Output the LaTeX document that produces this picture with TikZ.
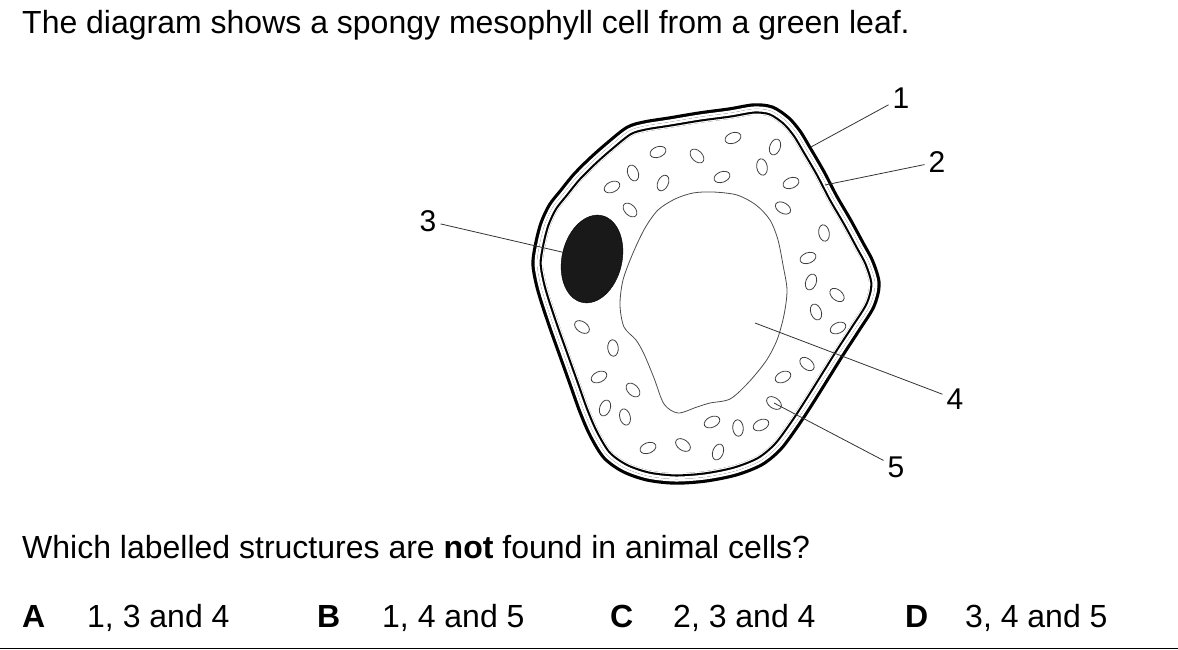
\documentclass[tikz,border=0pt]{standalone}
\usepackage{fontspec}
\setmainfont{Liberation Sans}
\usetikzlibrary{shapes.geometric}
\newcommand\cellwall{plot[smooth cycle] coordinates {
  (537,263) (540,243) (545,224) (553,207) (564,193) (577,177) (593,161) (610,146)
  (629,131) (645,126) (670,122) (700,117) (730,113) (754,109) (771,111) (786,121)
  (797,134) (806,149) (820,173) (833,198) (847,222) (860,246) (869,263) (875,284)
  (870,305) (855,329) (840,352) (825,376) (810,400) (795,423) (778,446) (760,461)
  (735,471) (705,477) (675,479) (648,476) (625,468) (607,455) (594,434) (584,411)
  (574,383) (564,355) (554,327) (545,300) (540,282)}}
\begin{document}
\begin{tikzpicture}[x=1pt,y=-1pt,
  txt/.style={anchor=base west,inner sep=0pt,font=\fontsize{32}{38}\selectfont},
  num/.style={inner sep=4pt,font=\fontsize{30}{36}\selectfont},
  chloro/.style={draw=black!75,line width=0.8pt,ellipse,inner sep=0pt,minimum width=16.5pt,minimum height=10.5pt},
  pointer/.style={draw=black!80,line width=0.8pt}]
\useasboundingbox (0,0) rectangle (1178,650);
% texts
\node[txt] (title) at (22,34) {The diagram shows a spongy mesophyll cell from a green leaf.};
\node[txt] (quest) at (22,558) {Which labelled structures are \textbf{not} found in animal cells?};
\node[txt] (optA) at (22,627.5) {\textbf{A}};
\node[txt] (ansA) at (87,627.5) {1, 3 and 4};
\node[txt] (optB) at (317,627.5) {\textbf{B}};
\node[txt] (ansB) at (382,627.5) {1, 4 and 5};
\node[txt] (optC) at (610,627.5) {\textbf{C}};
\node[txt] (ansC) at (673,627.5) {2, 3 and 4};
\node[txt] (optD) at (905,627.5) {\textbf{D}};
\node[txt] (ansD) at (965,627.5) {3, 4 and 5};
\draw[line width=1.5pt] (0,648.5) -- (1178,648.5);
% cell wall (thick, outside) and membrane (thinner, inside)
\draw[line width=3.2pt,double distance=5pt] \cellwall;
\begin{scope}
  \clip \cellwall;
  \draw[white,line width=11.6pt] \cellwall;
  \draw[line width=9.2pt] \cellwall;
  \draw[white,line width=5pt] \cellwall;
\end{scope}
% vacuole
\draw[black!70,line width=0.8pt] plot[smooth cycle] coordinates {
  (713,192) (737,195) (756,205) (770,220) (778,240) (783,265) (787,290) (784,315)
  (777,340) (766,361) (748,383) (730,399) (710,403) (697,407) (678,413) (664,404)
  (654,378) (644,354) (636,340) (624,327) (620,305) (623,280) (633,253) (645,228)
  (658,210) (675,199) (693,193)};
% nucleus
\node[ellipse,draw=black,fill=black!90,inner sep=0pt,minimum width=60pt,minimum height=89pt,rotate=-13] (nuc) at (592,259) {};
% chloroplasts
\foreach \n/\x/\y/\a in {1/733/138/20, 2/775/147/70, 3/658/152/20, 4/697/156/-45,
    5/762/167/100, 6/633/173/110, 7/722/177/20, 8/663/183/65, 9/791/183/20,
    10/612/187/25, 11/630/210/-45, 12/783/208/-30, 13/824/233/100, 14/808/258/20,
    15/811/282/70, 16/837/295/-40, 17/816/312/110, 18/838/328/25, 19/582/327/-35,
    20/613/348/95, 21/807/364/-40, 22/599/377/25, 23/783/377/25, 24/633/390/-45,
    25/774/403/-35, 26/605/408/70, 27/625/417/105, 28/712/422/25, 29/738/428/95,
    30/761/425/25, 31/648/448/20, 32/683/445/-35, 33/718/452/70}
  \node[chloro,rotate=\a] (c\n) at (\x,\y) {};
% labels
\coordinate (wall) at (811,147);
\coordinate (memb) at (825,185);
\coordinate (vac) at (755,323);
\node[num] (l1) at (901,98) {1};
\node[num] (l2) at (937,162) {2};
\node[num] (l3) at (428,221) {3};
\node[num] (l4) at (955,399) {4};
\node[num] (l5) at (896,467) {5};
\draw[pointer] (l1) -- (wall);
\draw[pointer] (l2) -- (memb);
\draw[pointer] (l3) -- (nuc);
\draw[pointer] (l4) -- (vac);
\draw[pointer] (l5) -- (c25.center);
\end{tikzpicture}
\end{document}
